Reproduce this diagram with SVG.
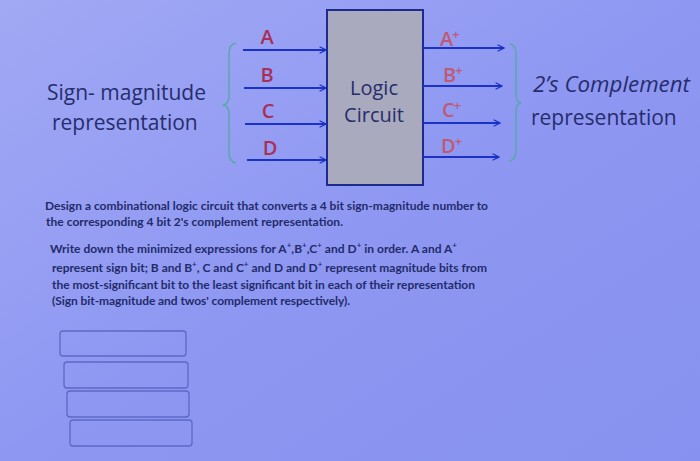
<svg xmlns="http://www.w3.org/2000/svg" width="700" height="461" viewBox="0 0 700 461">
<defs>
<linearGradient id="bg" x1="0" y1="0" x2="1" y2="1">
<stop offset="0" stop-color="#a1a9f4"/>
<stop offset="0.5" stop-color="#8e98f2"/>
<stop offset="1" stop-color="#8791ef"/>
</linearGradient>
<marker id="arr" viewBox="0 0 10 10" refX="9" refY="5" markerWidth="8" markerHeight="8" markerUnits="userSpaceOnUse" orient="auto">
<path d="M1,1 L9,5 L1,9" fill="none" stroke="#1a32c8" stroke-width="1.6"/>
</marker>
<style>
.big{font-family:"Open Sans","Noto Sans",sans-serif;fill:#262d6c;font-size:21px}
.box{font-size:20px}
.ital{font-size:22.3px;font-style:italic}
.in{font-family:"Open Sans","Noto Sans",sans-serif;fill:#a83058;font-size:20px;font-weight:600;text-anchor:middle}
.out{font-family:"Open Sans","Noto Sans",sans-serif;fill:#c05a72;font-size:20px;font-weight:600}
.sup{font-size:13px}
.wire{stroke:#1a32c8;stroke-width:2;fill:none;marker-end:url(#arr)}
.brace{stroke:#5aa8a8;stroke-width:1.5;fill:none}
.body{font-family:Lato,"Open Sans",sans-serif;fill:#232b6a;font-size:12px;font-weight:bold}
.ans{fill:none;stroke:#5d68c6;stroke-width:1.3}
</style>
</defs>
<rect width="700" height="461" fill="url(#bg)"/>

<g id="logic-circuit">
<rect x="327" y="10" width="96" height="175" fill="#a9aabd" stroke="#1c2b8c" stroke-width="2"/>
<text class="big box" x="374" y="95" text-anchor="middle">Logic</text>
<text class="big box" x="374" y="122" text-anchor="middle">Circuit</text>
</g>

<g id="sign-magnitude-label">
<text class="big" x="47" y="100">Sign- magnitude</text>
<text class="big" x="52" y="130">representation</text>
<path class="brace" d="M236,43 Q229,44 229,54 L229,96 Q229,104 223,105 Q229,106 229,114 L229,152 Q229,162 236,163"/>
</g>

<g id="twos-complement-label">
<text class="big ital" x="533" y="92">2’s Complement</text>
<text class="big" x="531" y="125">representation</text>
<path class="brace" d="M510,44 Q516,45 516,55 L516,95 Q516,102 521,103 Q516,104 516,111 L516,151 Q516,160 509,161"/>
</g>

<g id="input-labels">
<text class="in" x="267" y="44">A</text>
<text class="in" x="267" y="82">B</text>
<text class="in" x="268" y="118">C</text>
<text class="in" x="270" y="155">D</text>
</g>

<g id="output-labels">
<text class="out" x="440" y="46">A<tspan class="sup" dx="-1" dy="-7">+</tspan></text>
<text class="out" x="443" y="82">B<tspan class="sup" dx="-1" dy="-7">+</tspan></text>
<text class="out" x="442" y="117">C<tspan class="sup" dx="-1" dy="-7">+</tspan></text>
<text class="out" x="441" y="153">D<tspan class="sup" dx="-1" dy="-7">+</tspan></text>
</g>

<g id="connectors">
<line class="wire" x1="243" y1="50" x2="326" y2="50"/>
<line class="wire" x1="244" y1="88" x2="326" y2="88"/>
<line class="wire" x1="245" y1="124" x2="326" y2="124"/>
<line class="wire" x1="247" y1="160" x2="326" y2="160"/>
<line class="wire" x1="423" y1="48" x2="504" y2="48"/>
<line class="wire" x1="423" y1="86" x2="502" y2="86"/>
<line class="wire" x1="423" y1="123" x2="500" y2="123"/>
<line class="wire" x1="423" y1="157" x2="499" y2="157"/>
</g>

<g id="question-text">
<text class="body" x="45" y="210" textLength="443">Design a combinational logic circuit that converts a 4 bit sign-magnitude number to</text>
<text class="body" x="46" y="226" textLength="297">the corresponding 4 bit 2's complement representation.</text>
<text class="body" x="50" y="253" textLength="407">Write down the minimized expressions for A<tspan font-size="8" dy="-5">+</tspan><tspan dy="5">,B</tspan><tspan font-size="8" dy="-5">+</tspan><tspan dy="5">,C</tspan><tspan font-size="8" dy="-5">+</tspan><tspan dy="5"> and D</tspan><tspan font-size="8" dy="-5">+</tspan><tspan dy="5"> in order. A and A</tspan><tspan font-size="8" dy="-5">+</tspan></text>
<text class="body" x="52" y="272" textLength="435">represent sign bit;  B and B<tspan font-size="8" dy="-5">+</tspan><tspan dy="5">, C and C</tspan><tspan font-size="8" dy="-5">+</tspan><tspan dy="5"> and D and D</tspan><tspan font-size="8" dy="-5">+</tspan><tspan dy="5"> represent magnitude bits from</tspan></text>
<text class="body" x="52" y="289" textLength="423">the most-significant bit to the least significant bit in each of their representation</text>
<text class="body" x="52" y="305" textLength="298">(Sign bit-magnitude and twos' complement respectively).</text>
</g>

<g id="answer-boxes">
<rect class="ans" x="60" y="331" width="126" height="25" rx="3"/>
<rect class="ans" x="64" y="362" width="124" height="26" rx="3"/>
<rect class="ans" x="67" y="391" width="122" height="26" rx="3"/>
<rect class="ans" x="70" y="420" width="122" height="26" rx="3"/>
</g>
</svg>
